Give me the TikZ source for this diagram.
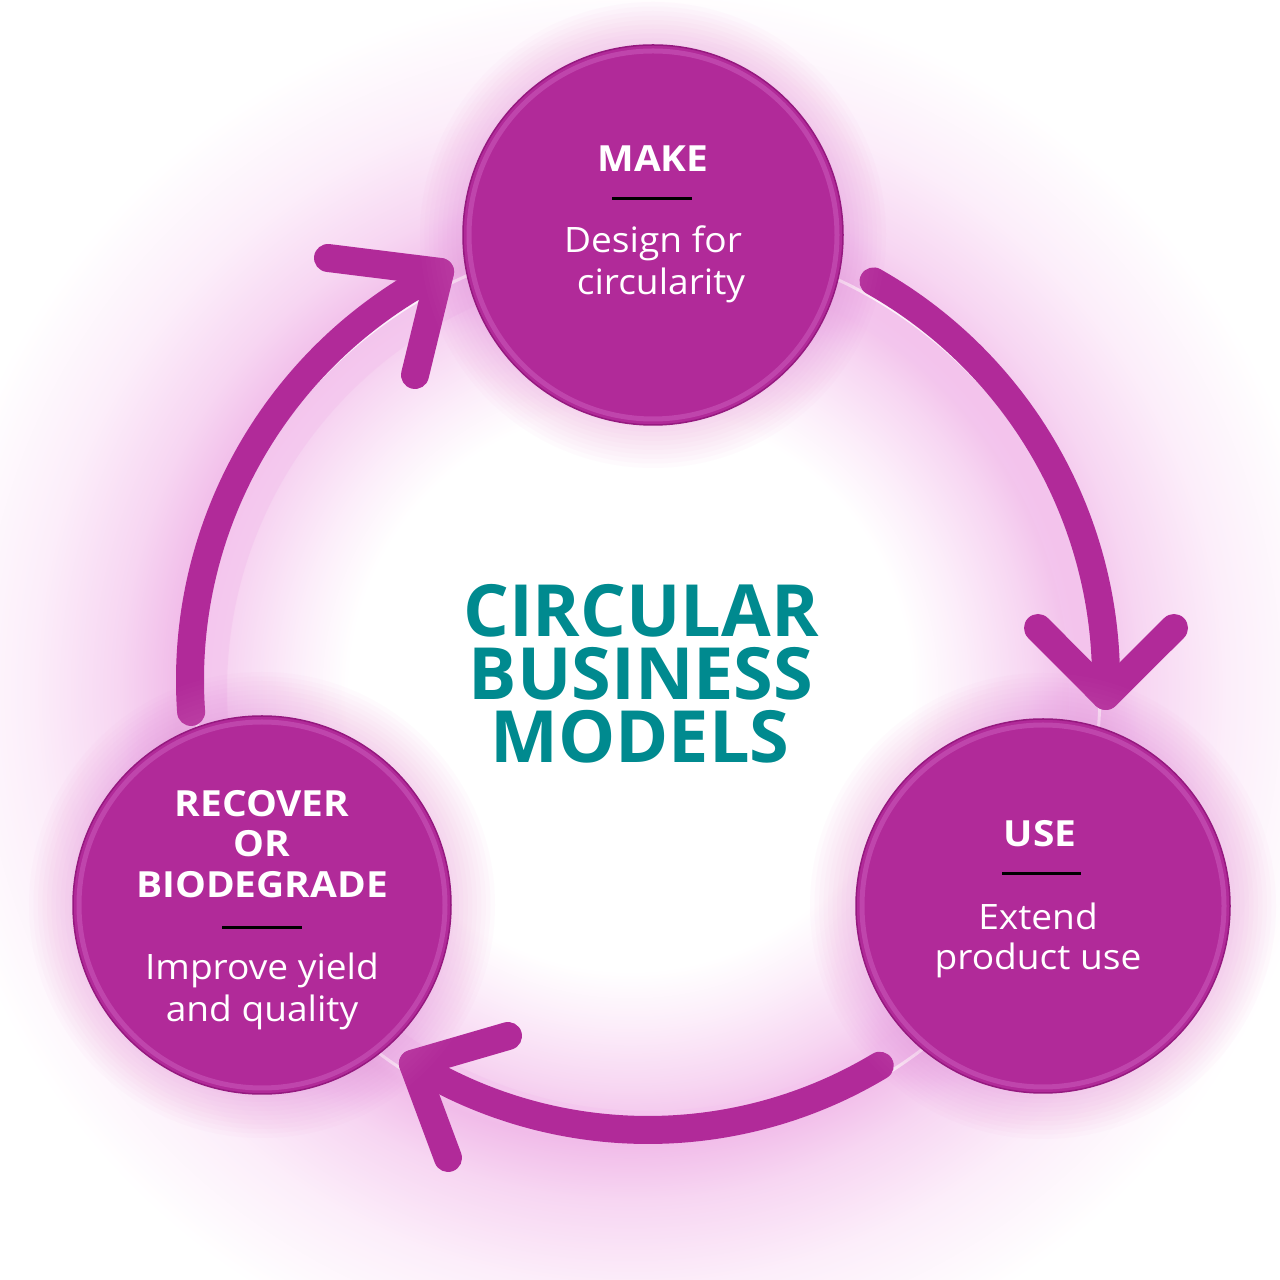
\documentclass[tikz,border=0pt]{standalone}
\usepackage{fontspec}
\setmainfont{Open Sans}
\usetikzlibrary{calc}
\definecolor{mag}{HTML}{B12A99}
\definecolor{magrim}{HTML}{CC5CBC}
\definecolor{magdark}{HTML}{95197F}
\definecolor{titleteal}{HTML}{008A8F}
\definecolor{gA}{HTML}{FCEEFA}
\definecolor{gB}{HTML}{F7D6F2}
\definecolor{gC}{HTML}{F1BCE9}
\definecolor{ringc}{HTML}{F4C6EE}
\definecolor{haloc}{HTML}{E07AD2}
\pgfdeclareradialshading{glow}{\pgfpoint{0bp}{0bp}}{%
  color(0bp)=(white); color(7.8bp)=(white); color(9.3bp)=(gA);
  color(11.1bp)=(gB); color(12.6bp)=(gC); color(14.2bp)=(gB);
  color(16.6bp)=(gA); color(19.6bp)=(white); color(50bp)=(white)}
\tikzset{
  bubble/.style={circle, fill=mag, inner sep=0pt, draw=magdark, line width=1.5pt},
  arrowline/.style={draw=mag, line width=28pt, line cap=round, line join=round},
  headtxt/.style={text=white, font=\fontsize{36}{41}\selectfont\bfseries\addfontfeature{FakeStretch=1.08}, anchor=base, inner sep=0pt},
  bodytxt/.style={text=white, font=\fontsize{35}{42}\selectfont\addfontfeature{FakeStretch=1.06}, anchor=base, inner sep=0pt},
  titletxt/.style={text=titleteal, font=\fontsize{72}{63}\selectfont\bfseries, anchor=base, inner sep=0pt},
  rulebar/.style={draw=black, line width=3pt}
}
\begin{document}
\begin{tikzpicture}[x=1pt,y=1pt]
\useasboundingbox (0,0) rectangle (1280,1280);
\fill[white] (0,0) rectangle (1280,1280);
% background glow
\coordinate (G) at (630,590);
\fill[shading=glow] ([shift={(-900,-900)}]G) rectangle ([shift={(900,900)}]G);
% glass ring
\draw[ringc, line width=30pt, opacity=0.7] (648,590) circle[radius=436];
\draw[white, line width=3pt, opacity=0.8] (648,590) circle[radius=452];
% ring centre
\coordinate (C) at (648,600);
% arrows
\coordinate (s1) at ([shift={(60.5:458)}]C);
\coordinate (v1) at ([shift={(-2:458)}]C);
\coordinate (a1) at (1038,652);
\coordinate (b1) at (1174,652);
\draw[arrowline] (s1) arc[start angle=60.5, end angle=-2, radius=458];
\draw[arrowline] (a1) -- (v1) -- (b1);
\coordinate (s2) at ([shift={(-59:450)}]C);
\coordinate (v2) at ([shift={(-121.5:450)}]C);
\coordinate (a2) at (508,244);
\coordinate (b2) at (448,122);
\draw[arrowline] (s2) arc[start angle=-59, end angle=-121.5, radius=450];
\draw[arrowline] (a2) -- (v2) -- (b2);
\coordinate (s3) at ([shift={(184:458)}]C);
\coordinate (v3) at ([shift={(117:458)}]C);
\coordinate (a3) at (328,1022);
\coordinate (b3) at (415,905);
\draw[arrowline] (s3) arc[start angle=184, end angle=117, radius=458];
\draw[arrowline] (a3) -- (v3) -- (b3);
% halos
\foreach \cx/\cy in {653/1045, 1043/374, 262/375}{
  \foreach \k in {1,...,10}{
    \fill[haloc, opacity=0.032] (\cx,\cy) circle[radius=188+4.5*\k];
  }
}
% bubbles
\node[bubble, minimum size=380pt] (make) at (653,1045) {};
\node[bubble, minimum size=374pt] (use) at (1043,374) {};
\node[bubble, minimum size=378pt] (recover) at (262,375) {};
\foreach \n/\r in {make/184, use/181, recover/183}{
  \draw[magrim, line width=5pt, opacity=0.55] (\n.center) circle[radius=\r];
}
% MAKE text
\node[headtxt] (maket) at (653,1108) {MAKE};
\coordinate (mr1) at (612,1081);
\coordinate (mr2) at (692,1081);
\draw[rulebar] (mr1) -- (mr2);
\node[bodytxt] (makeb1) at (653,1027) {Design for};
\node[bodytxt] (makeb2) at (661,985) {circularity};
% USE text
\node[headtxt] (uset) at (1040,433) {USE};
\coordinate (ur1) at (1002,406);
\coordinate (ur2) at (1081,406);
\draw[rulebar] (ur1) -- (ur2);
\node[bodytxt] (useb1) at (1038,350) {Extend};
\node[bodytxt] (useb2) at (1038,310) {product use};
% RECOVER text
\node[headtxt] (rect1) at (262,463) {RECOVER};
\node[headtxt] (rect2) at (262,423) {OR};
\node[headtxt] (rect3) at (262,382) {BIODEGRADE};
\coordinate (rr1) at (222,352);
\coordinate (rr2) at (302,352);
\draw[rulebar] (rr1) -- (rr2);
\node[bodytxt] (recb1) at (262,300) {Improve yield};
\node[bodytxt] (recb2) at (262,258) {and quality};
% title
\node[titletxt] (title1) at (641,643) {CIRCULAR};
\node[titletxt] (title2) at (641,580) {BUSINESS};
\node[titletxt] (title3) at (640,517) {MODELS};
\end{tikzpicture}
\end{document}
